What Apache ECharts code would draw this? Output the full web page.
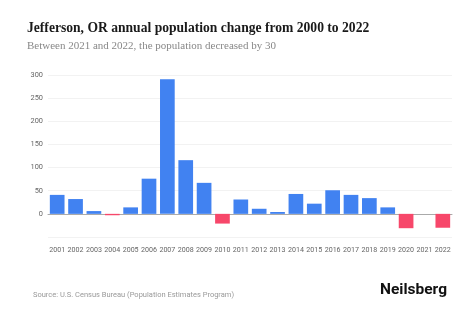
<!DOCTYPE html>
<html><head><meta charset="utf-8">
<script src="https://cdn.jsdelivr.net/npm/echarts@6/dist/echarts.min.js"></script>
<style>html,body{margin:0;padding:0;background:#fff}#c{width:474px;height:316px}</style>
</head><body><div id="c"></div>
<script>
var years = ["2001","2002","2003","2004","2005","2006","2007","2008","2009","2010","2011","2012","2013","2014","2015","2016","2017","2018","2019","2020","2021","2022"];
var changes = [41, 32, 6, -3, 14, 76, 291, 116, 67, -21, 31, 11, 4, 43, 22, 51, 41, 34, 14, -31, 0, -30];
var yTicks = {min: -50, max: 300, interval: 50};
var POS = '#4182f1', NEG = '#f7476a';
var chart = echarts.init(document.getElementById('c'));
chart.setOption({
  animation: false,
  title: [
    {text: 'Jefferson, OR annual population change from 2000 to 2022', left: 22, top: 16,
     textStyle: {fontFamily: 'Liberation Serif', fontWeight: 'bold', fontSize: 13.6, color: '#1a1a1a'}},
    {text: 'Between 2021 and 2022, the population decreased by 30', left: 22, top: 36,
     textStyle: {fontFamily: 'Liberation Serif', fontWeight: 'normal', fontSize: 11, color: '#888'}},
    {text: 'Source: U.S. Census Bureau (Population Estimates Program)', left: 28, top: 286,
     textStyle: {fontFamily: 'Roboto', fontWeight: 'normal', fontSize: 7.5, color: '#999'}},
    {text: 'Neilsberg', right: 22, top: 277,
     textStyle: {fontFamily: 'Roboto', fontWeight: 'bold', fontSize: 15.5, color: '#111'}}
  ],
  grid: {left: 48, right: 22, top: 75, bottom: 79},
  xAxis: {
    type: 'category', data: years,
    axisLine: {lineStyle: {color: '#aaa'}},
    axisTick: {alignWithLabel: true, length: 7, lineStyle: {color: '#999'}},
    axisLabel: {interval: 0, fontFamily: 'Roboto', fontSize: 7.1, color: '#666', margin: 10}
  },
  yAxis: {
    type: 'value', min: yTicks.min, max: yTicks.max, interval: yTicks.interval,
    axisLine: {show: false}, axisTick: {show: false},
    splitLine: {lineStyle: {color: '#f2f2f2'}},
    axisLabel: {fontFamily: 'Roboto', fontSize: 7.4, color: '#666', margin: 5,
      formatter: function (v) { return v < 0 ? '' : String(v); }}
  },
  series: [{
    type: 'bar', barCategoryGap: '20%',
    data: changes.map(function (v) { return {value: v, itemStyle: {color: v < 0 ? NEG : POS}}; })
  }]
});
</script></body></html>
